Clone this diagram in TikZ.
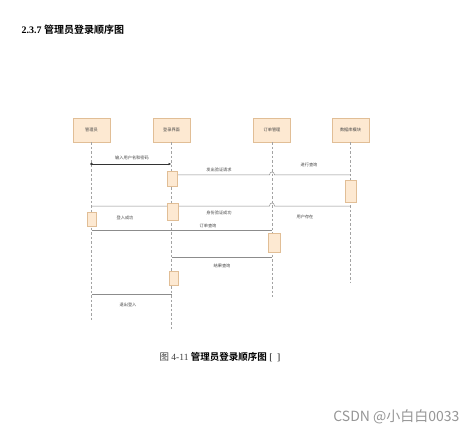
\documentclass[tikz,border=0pt]{standalone}
\usepackage{fontspec}
\setmainfont{Liberation Serif}
\newfontfamily\cjk{Noto Sans CJK SC}[BoldFont={Noto Sans CJK SC Bold}]
\usepackage{tikz}
\usetikzlibrary{positioning}
\usetikzlibrary{calc}
\usetikzlibrary{arrows.meta}
\definecolor{boxfill}{RGB}{253,233,210}
\definecolor{boxline}{RGB}{225,190,150}
\definecolor{msgline}{RGB}{140,140,140}
\definecolor{lbltext}{RGB}{70,70,70}
\definecolor{wmark}{RGB}{150,150,150}

\begin{document}
\begin{tikzpicture}[x=1pt,y=-1pt]
	\tikzstyle{head}=[rectangle, draw=boxline, fill=boxfill, minimum width=37pt, minimum height=24pt, inner sep=1pt, font=\cjk\fontsize{4.2}{5}\selectfont, text=lbltext]
	\tikzstyle{act}=[rectangle, draw=boxline, fill=boxfill, inner sep=0pt]
	\tikzstyle{life}=[draw=msgline!80, dash pattern=on 2.5pt off 2pt, line width=0.5pt]
	\tikzstyle{msg}=[draw=msgline, line width=0.5pt]
	\tikzstyle{lbl}=[font=\cjk\fontsize{4.2}{5}\selectfont, text=lbltext, inner sep=0pt]
	
	\useasboundingbox[fill=white] (0,0) rectangle (474,441);
	
	\node[anchor=west, font=\fontsize{10}{12}\selectfont\bfseries] (title) at (18,30) {2.3.7 {\cjk\bfseries 管理员登录顺序图}};
	
	% lifeline heads
	\draw node at (91.5, 130) [head] (g) {管理员};
	\draw node at (171.5, 130) [head] (l) {登录界面};
	\draw node at (272, 130) [head] (o) {订单管理};
	\draw node at (350.5, 130) [head] (d) {数据库模块};
	
	\coordinate (gend) at (91.5, 322);
	\coordinate (lend) at (171.5, 330);
	\coordinate (oend) at (272, 297);
	\coordinate (dend) at (350.5, 282);
	
	\draw [life] (g) -- (gend);
	\draw [life] (l) -- (lend);
	\draw [life] (o) -- (oend);
	\draw [life] (d) -- (dend);
	
	% message rows
	\coordinate (r1) at (0, 164);
	\coordinate (r2) at (0, 175);
	\coordinate (r3) at (0, 206);
	\coordinate (r4) at (0, 230);
	\coordinate (r5) at (0, 257);
	\coordinate (r6) at (0, 294);
	\coordinate (hop1) at (o |- r2);
	\coordinate (hop2) at (o |- r3);
	
	\draw [msg, draw=black!80, {Circle[length=2.4pt]}-{Latex[length=3pt,width=2.4pt]}, shorten <=-1.2pt] (g |- r1) -- (l |- r1);
	\draw [msg] (l.south |- r2) -- ($(hop1)+(-2.5,0)$) .. controls +(0,-4) and +(0,-4) .. ($(hop1)+(2.5,0)$) -- (d |- r2);
	\draw [msg] (d |- r3) -- ($(hop2)+(2.5,0)$) .. controls +(0,-4) and +(0,-4) .. ($(hop2)+(-2.5,0)$) -- (g |- r3);
	\draw [msg] (g |- r4) -- (o |- r4);
	\draw [msg] (o |- r5) -- (l |- r5);
	\draw [msg] (l |- r6) -- (g |- r6);
	
	% activations
	\draw node at (172, 178.5) [act, minimum width=10pt, minimum height=15pt] (a1) {};
	\draw node at (350.5, 191) [act, minimum width=11pt, minimum height=22pt] (a2) {};
	\draw node at (172.5, 211.5) [act, minimum width=11pt, minimum height=17pt] (a3) {};
	\draw node at (91.5, 219) [act, minimum width=9pt, minimum height=14pt] (a4) {};
	\draw node at (274, 242.5) [act, minimum width=12pt, minimum height=19pt] (a5) {};
	\draw node at (173.5, 278) [act, minimum width=9pt, minimum height=14pt] (a6) {};
	
	% labels
	\node [lbl] (t1) at (132, 158) {输入用户名和密码};
	\node [lbl] (t2) at (219, 170) {发出验证请求};
	\node [lbl] (t3) at (309, 165) {进行查询};
	\node [lbl] (t4) at (219, 213) {身份验证成功};
	\node [lbl] (t5) at (305, 217) {用户存在};
	\node [lbl] (t6) at (125, 218) {登入成功};
	\node [lbl] (t7) at (208, 226) {订单查询};
	\node [lbl] (t8) at (222, 266) {结果查询};
	\node [lbl] (t9) at (128, 305) {退出登入};
	
	\node [font=\fontsize{9.5}{11}\selectfont] (cap) at (220, 357) {{\cjk\color{black!75}图} {\color{black!75}4-11} {\cjk\bfseries 管理员登录顺序图} [\ \ ]};
	
	\node [anchor=east, font=\cjk\fontsize{14}{16}\selectfont, text=wmark] (wm) at (463, 417) {CSDN @小白白0033};
\end{tikzpicture}
\end{document}
